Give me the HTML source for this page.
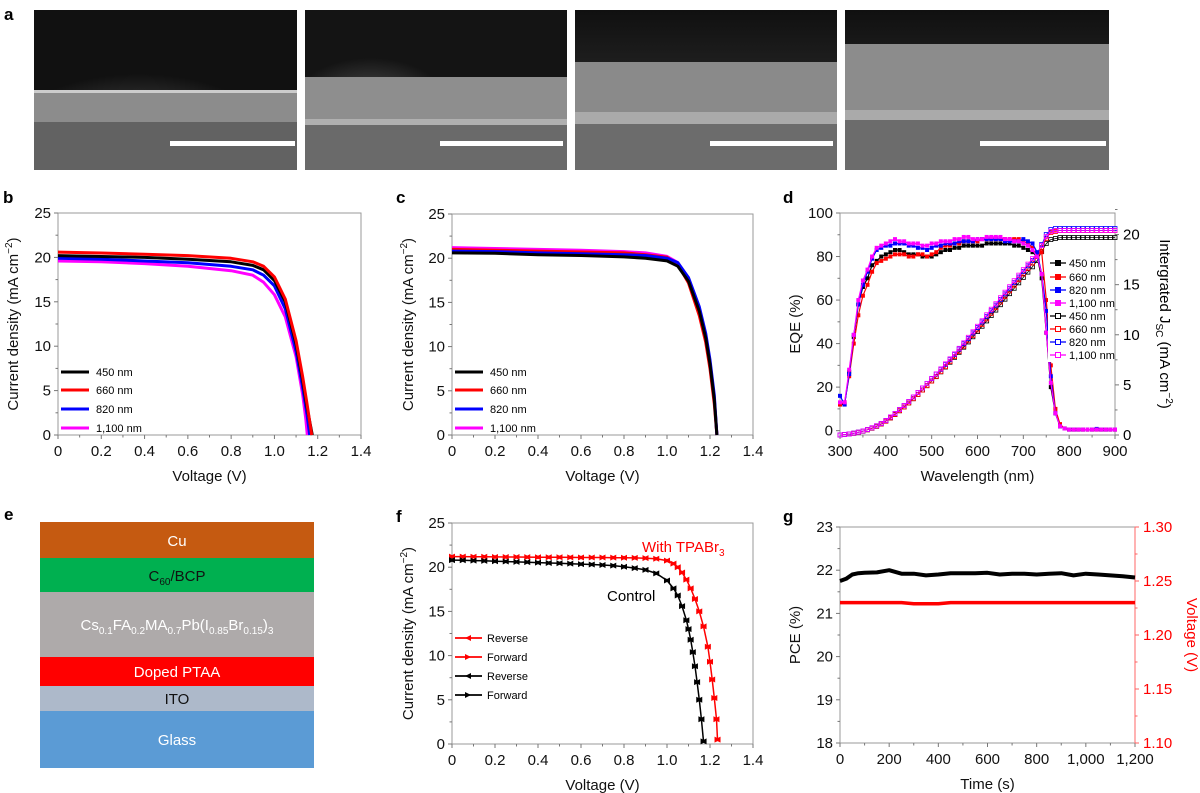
<!DOCTYPE html>
<html><head><meta charset="utf-8"><style>
html,body{margin:0;padding:0;background:#fff;}
svg{display:block;font-family:"Liberation Sans",Arial,sans-serif;}
</style></head><body>
<svg id="fig" width="1200" height="793" viewBox="0 0 1200 793">
<defs>
<radialGradient id="glow1" cx="0.4" cy="1" r="0.6"><stop offset="0" stop-color="#777"/><stop offset="1" stop-color="#111"/></radialGradient>
<radialGradient id="glow2" cx="0.25" cy="0.6" r="0.3"><stop offset="0" stop-color="#555"/><stop offset="1" stop-color="#141414"/></radialGradient>
<linearGradient id="dark" x1="0" y1="0" x2="0" y2="1"><stop offset="0" stop-color="#101010"/><stop offset="1" stop-color="#3a3a3a"/></linearGradient>
</defs>
<g>
<text x="4" y="20" font-weight="bold" font-size="17">a</text>
<g>
<rect x="34" y="10" width="263" height="160" fill="url(#glow1)"/>
<rect x="34" y="92" width="263" height="30" fill="#8c8c8c"/>
<rect x="34" y="90" width="263" height="3" fill="#ccc"/>
<rect x="34" y="122" width="263" height="48" fill="#626262"/>
<rect x="170" y="141" width="125" height="5" fill="#fff"/>
</g>
<g>
<rect x="305" y="10" width="262" height="160" fill="url(#glow2)"/>
<rect x="305" y="77" width="262" height="42" fill="#8e8e8e"/>
<rect x="305" y="119" width="262" height="6" fill="#b0b0b0"/>
<rect x="305" y="125" width="262" height="45" fill="#6a6a6a"/>
<rect x="440" y="141" width="123" height="5" fill="#fff"/>
</g>
<g>
<rect x="575" y="10" width="262" height="160" fill="url(#dark)"/>
<rect x="575" y="62" width="262" height="50" fill="#8a8a8a"/>
<rect x="575" y="112" width="262" height="12" fill="#aaa"/>
<rect x="575" y="124" width="262" height="46" fill="#6c6c6c"/>
<rect x="710" y="141" width="123" height="5" fill="#fff"/>
</g>
<g>
<rect x="845" y="10" width="264" height="160" fill="url(#dark)"/>
<rect x="845" y="44" width="264" height="66" fill="#8c8c8c"/>
<rect x="845" y="110" width="264" height="10" fill="#aaa"/>
<rect x="845" y="120" width="264" height="50" fill="#6c6c6c"/>
<rect x="980" y="141" width="126" height="5" fill="#fff"/>
</g>
</g>
<g>
<text x="4" y="520" font-weight="bold" font-size="17">e</text>
<rect x="40" y="522" width="274" height="36" fill="#c55a11"/>
<text x="177" y="546" text-anchor="middle" font-size="15" fill="#fff">Cu</text>
<rect x="40" y="558" width="274" height="34" fill="#00b050"/>
<text x="177" y="581" text-anchor="middle" font-size="15" fill="#111">C<tspan font-size="10" dy="4">60</tspan><tspan dy="-4">/BCP</tspan></text>
<rect x="40" y="592" width="274" height="65" fill="#aeaaaa"/>
<text x="177" y="630" text-anchor="middle" font-size="15" fill="#fff">Cs<tspan font-size="10" dy="4">0.1</tspan><tspan dy="-4">FA</tspan><tspan font-size="10" dy="4">0.2</tspan><tspan dy="-4">MA</tspan><tspan font-size="10" dy="4">0.7</tspan><tspan dy="-4">Pb(I</tspan><tspan font-size="10" dy="4">0.85</tspan><tspan dy="-4">Br</tspan><tspan font-size="10" dy="4">0.15</tspan><tspan dy="-4">)</tspan><tspan font-size="10" dy="4">3</tspan></text>
<rect x="40" y="657" width="274" height="29" fill="#ff0000"/>
<text x="177" y="677" text-anchor="middle" font-size="15" fill="#fff">Doped PTAA</text>
<rect x="40" y="686" width="274" height="25" fill="#adb9ca"/>
<text x="177" y="704" text-anchor="middle" font-size="15" fill="#111">ITO</text>
<rect x="40" y="711" width="274" height="57" fill="#5b9bd5"/>
<text x="177" y="745" text-anchor="middle" font-size="15" fill="#fff">Glass</text>
</g>
</svg>
<script>
const bV450=[0,0.2,0.4,0.6,0.8,0.9,0.95,1.0,1.05,1.1,1.13,1.15,1.175];
const bJ450=[20.2,20.1,20.0,19.8,19.5,19.1,18.6,17.4,15.0,10.2,6.2,3.2,0];
const bV660=[0,0.2,0.4,0.6,0.8,0.9,0.95,1.0,1.05,1.1,1.13,1.15,1.172];
const bJ660=[20.6,20.5,20.35,20.2,19.9,19.5,19.0,17.8,15.3,10.6,6.6,3.6,0];
const bV820=[0,0.2,0.4,0.6,0.8,0.9,0.95,1.0,1.05,1.1,1.13,1.15,1.163];
const bJ820=[19.9,19.8,19.6,19.4,19.0,18.6,18.0,16.8,14.2,9.4,5.4,2.4,0];
const bV1100=[0,0.2,0.4,0.6,0.8,0.9,0.95,1.0,1.05,1.1,1.13,1.145,1.152];
const bJ1100=[19.6,19.5,19.3,19.0,18.5,18.0,17.2,15.8,13.3,8.8,4.6,1.8,0];
const cV=[0,0.2,0.4,0.6,0.8,0.9,1.0,1.05,1.1,1.15,1.18,1.2,1.22,1.232];
const cJ450=[20.6,20.55,20.4,20.3,20.15,20.0,19.7,19.1,17.4,14.0,11.0,8.0,4.0,0];
const cJ660=[21.0,20.9,20.8,20.7,20.6,20.4,20.1,19.3,17.2,13.5,10.5,7.5,3.5,0];
const cJ820=[20.8,20.75,20.6,20.5,20.4,20.3,20.0,19.5,17.8,14.5,11.5,8.5,4.5,0];
const cJ1100=[21.2,21.1,21.0,20.9,20.75,20.6,20.2,19.5,17.6,14.2,11.2,8.2,4.2,0];
const dWl=[300,310,320,330,340,350,360,370,380,390,400,410,420,430,440,450,460,470,480,490,500,510,520,530,540,550,560,570,580,590,600,610,620,630,640,650,660,670,680,690,700,710,720,730,740,750,760,770,780,790,800,810,820,830,840,850,860,870,880,890,900];
const eqe450=[12,12,27,43,58,66,70,76,78,80,81,82,83,83,82,81,81,81,80,80,80,81,82,83,83,84,84,85,85,85,85,85,86,86,86,86,86,86,85,85,84,83,82,80,70,45,20,8,2,1,0.5,0.5,0.5,0.5,0.5,0.5,0.5,0.5,0.5,0.5,0.5];
const eqe660=[12,13,25,40,53,62,67,73,77,78,79,80,81,81,81,80,80,81,81,80,81,82,84,85,85,86,86,87,87,87,87,88,88,88,88,88,88,88,88,88,87,86,84,80,82,60,30,10,3,1,0.5,0.5,0.5,0.5,0.5,0.5,0.5,0.5,0.5,0.5,0.5];
const eqe820=[16,12,26,44,58,67,73,79,83,84,85,85,86,86,86,85,85,84,84,83,84,85,85,86,86,86,87,87,87,87,88,88,88,88,88,88,87,87,87,87,88,87,86,82,72,55,25,8,2,1,0.5,0.5,0.5,0.5,0.5,0.5,0.8,0.5,0.5,0.5,0.5];
const eqe1100=[13,13,28,44,60,69,74,80,84,85,86,87,88,87,87,86,86,86,85,85,86,86,87,87,87,88,88,89,89,88,88,88,89,89,89,89,88,88,87,87,86,85,83,80,72,45,22,8,2,1,0.5,0.5,0.5,0.5,0.5,0.5,0.5,0.5,0.5,0.5,0.5];
const jsc450=[0,0.05,0.1,0.17,0.27,0.38,0.52,0.68,0.87,1.1,1.38,1.7,2.05,2.42,2.8,3.2,3.62,4.05,4.48,4.92,5.38,5.82,6.3,6.78,7.26,7.75,8.25,8.76,9.28,9.8,10.32,10.85,11.38,11.92,12.46,13.0,13.55,14.1,14.64,15.18,15.72,16.25,16.78,17.4,18.3,19.1,19.5,19.6,19.7,19.7,19.7,19.7,19.7,19.7,19.7,19.7,19.7,19.7,19.7,19.7,19.7];
const jsc660=[0,0.05,0.1,0.17,0.27,0.38,0.52,0.68,0.87,1.1,1.38,1.7,2.05,2.42,2.8,3.2,3.62,4.05,4.48,4.92,5.38,5.84,6.32,6.82,7.32,7.82,8.34,8.86,9.4,9.94,10.48,11.03,11.58,12.14,12.7,13.26,13.82,14.38,14.94,15.5,16.06,16.6,17.15,17.8,18.7,19.6,20.2,20.3,20.4,20.4,20.4,20.4,20.4,20.4,20.4,20.4,20.4,20.4,20.4,20.4,20.4];
const jsc820=[0,0.05,0.1,0.18,0.28,0.4,0.55,0.72,0.92,1.15,1.45,1.8,2.15,2.55,2.95,3.35,3.8,4.25,4.7,5.15,5.62,6.08,6.56,7.05,7.55,8.05,8.58,9.1,9.64,10.18,10.72,11.28,11.84,12.4,12.96,13.52,14.08,14.64,15.2,15.76,16.32,16.88,17.42,18.1,19.0,20.0,20.5,20.6,20.6,20.6,20.6,20.6,20.6,20.6,20.6,20.6,20.6,20.6,20.6,20.6,20.6];
const jsc1100=[0,0.05,0.1,0.18,0.28,0.4,0.55,0.72,0.92,1.15,1.45,1.8,2.15,2.55,2.95,3.35,3.8,4.25,4.7,5.15,5.65,6.1,6.6,7.1,7.6,8.1,8.65,9.2,9.75,10.3,10.85,11.4,12.0,12.55,13.1,13.7,14.25,14.8,15.4,15.95,16.5,17.05,17.6,18.15,18.9,19.8,20.3,20.4,20.4,20.4,20.4,20.4,20.4,20.4,20.4,20.4,20.4,20.4,20.4,20.4,20.4];
const fVc=[0,0.05,0.1,0.15,0.2,0.25,0.3,0.35,0.4,0.45,0.5,0.55,0.6,0.65,0.7,0.75,0.8,0.85,0.9,0.95,1.0,1.03,1.05,1.07,1.09,1.1,1.11,1.12,1.13,1.14,1.15,1.16,1.17];
const fJc=[20.8,20.78,20.75,20.72,20.68,20.65,20.6,20.57,20.52,20.48,20.44,20.4,20.35,20.3,20.25,20.18,20.05,19.9,19.7,19.3,18.5,17.6,16.8,15.6,14.0,13.0,11.8,10.4,8.8,7.0,5.0,2.8,0.3];
const fVt=[0,0.05,0.1,0.15,0.2,0.25,0.3,0.35,0.4,0.45,0.5,0.55,0.6,0.65,0.7,0.75,0.8,0.85,0.9,0.95,1.0,1.03,1.05,1.07,1.09,1.11,1.13,1.15,1.17,1.19,1.2,1.21,1.22,1.23,1.235];
const fJt=[21.2,21.2,21.18,21.18,21.16,21.15,21.15,21.14,21.13,21.12,21.12,21.11,21.1,21.1,21.1,21.08,21.07,21.05,21.02,20.95,20.75,20.4,20.0,19.4,18.6,17.6,16.4,15.0,13.3,11.0,9.3,7.3,5.2,2.8,0.5];
const gT=[0,25,50,75,100,150,200,250,300,350,400,450,500,550,600,650,700,750,800,850,900,950,1000,1050,1100,1150,1200];
const gPCE=[21.75,21.8,21.9,21.93,21.94,21.95,22.0,21.92,21.92,21.88,21.9,21.93,21.93,21.93,21.94,21.9,21.92,21.92,21.9,21.92,21.93,21.88,21.92,21.9,21.88,21.86,21.83];
const gVolt=[1.23,1.23,1.23,1.23,1.23,1.23,1.23,1.23,1.229,1.229,1.229,1.23,1.23,1.23,1.23,1.23,1.23,1.23,1.23,1.23,1.23,1.23,1.23,1.23,1.23,1.23,1.23];
const jvTicksX=[0,0.2,0.4,0.6,0.8,1.0,1.2,1.4];
const jvTickLabelsX=['0','0.2','0.4','0.6','0.8','1.0','1.2','1.4'];
const jvTicksY=[0,5,10,15,20,25];

const NS='http://www.w3.org/2000/svg';
const svg=document.getElementById('fig');
function mk(tag,parent){const e=document.createElementNS(NS,tag);parent.appendChild(e);return e;}
function set(e,o){for(const k in o)e.setAttribute(k,o[k]);return e;}
function scale(d0,d1,r0,r1){return v=>r0+(v-d0)/(d1-d0)*(r1-r0);}

function axes(g,p){
  const fr=mk('rect',g);
  set(fr,{x:p.L,y:p.T,width:p.R-p.L,height:p.B-p.T,fill:'none',stroke:'#999','stroke-width':1});
  
  
  p.xt.forEach((v,i)=>{
    const x=p.X(v);
    const t=mk('line',g);set(t,{x1:x,x2:x,y1:p.B,y2:p.B+4,stroke:'#777'});
    
    
    const l=mk('text',g);set(l,{x:x,y:p.B+21,'text-anchor':'middle','font-size':15,fill:'#111'});l.textContent=p.xl[i];
    
    
    if(i<p.xt.length-1){const xm=p.X((v+p.xt[i+1])/2);const m=mk('line',g);set(m,{x1:xm,x2:xm,y1:p.B,y2:p.B+2.5,stroke:'#777'});
      
      }
  });
  p.yt.forEach((v,i)=>{
    const y=p.Y(v);
    const t=mk('line',g);set(t,{x1:p.L-4,x2:p.L,y1:y,y2:y,stroke:'#777'});
    
    
    const l=mk('text',g);set(l,{x:p.L-7,y:y+5,'text-anchor':'end','font-size':15,fill:'#111'});l.textContent=p.yl?p.yl[i]:String(v);
    
    
    if(i<p.yt.length-1){const ym=p.Y((v+p.yt[i+1])/2);const m=mk('line',g);set(m,{x1:p.L-2.5,x2:p.L,y1:ym,y2:ym,stroke:'#777'});
      
      }
  });
  const xt=mk('text',g);set(xt,{x:(p.L+p.R)/2,y:p.B+46,'text-anchor':'middle','font-size':15,fill:'#111'});xt.textContent=p.xtitle;
  
  
  const yt=mk('text',g);set(yt,{x:0,y:0,'text-anchor':'middle','font-size':15,fill:'#111',transform:`translate(${p.ytx},${(p.T+p.B)/2}) rotate(-90)`});
  yt.innerHTML=p.ytitle;
  
  
}
function line(g,xs,ys,X,Y,color,w,name){
  const pl=mk('polyline',g);
  set(pl,{points:xs.map((v,i)=>X(v).toFixed(1)+','+Y(ys[i]).toFixed(1)).join(' '),fill:'none',stroke:color,'stroke-width':w,'stroke-linejoin':'round'});
  
  
  return pl;
}
function label(g,x,y,txt){const l=mk('text',g);set(l,{x:x,y:y,'font-weight':'bold','font-size':17});l.textContent=txt;
  
  }
const cmUnit='Current density (mA cm<tspan dy="-6" font-size="10">−2</tspan><tspan dy="6">)</tspan>';
function jvLegend(g,x0){
[['450 nm','#000',372],['660 nm','#ff0000',390],['820 nm','#0000ff',409],['1,100 nm','#ff00ff',428]].forEach(e=>{
  const l=mk('line',g);set(l,{x1:x0,x2:x0+28,y1:e[2],y2:e[2],stroke:e[1],'stroke-width':3});
  
  
  const t=mk('text',g);set(t,{x:x0+35,y:e[2]+4,'font-size':11});t.textContent=e[0];
  
  
});
}

{
const g=mk('g',svg);


label(g,3,203,'b');
const p={L:58,R:361,T:213,B:435,X:scale(0,1.4,58,361),Y:scale(0,25,435,213),xt:jvTicksX,xl:jvTickLabelsX,yt:jvTicksY,xtitle:'Voltage (V)',ytitle:cmUnit,ytx:18};
axes(g,p);
line(g,bV1100,bJ1100,p.X,p.Y,'#ff00ff',3,'line-1100nm');
line(g,bV820,bJ820,p.X,p.Y,'#0000ff',3,'line-820nm');
line(g,bV450,bJ450,p.X,p.Y,'#000',3,'line-450nm');
line(g,bV660,bJ660,p.X,p.Y,'#ff0000',3,'line-660nm');
jvLegend(g,61);
}
{
const g=mk('g',svg);


label(g,396,203,'c');
const p={L:452,R:753,T:214,B:435,X:scale(0,1.4,452,753),Y:scale(0,25,435,214),xt:jvTicksX,xl:jvTickLabelsX,yt:jvTicksY,xtitle:'Voltage (V)',ytitle:cmUnit,ytx:413};
axes(g,p);
line(g,cV,cJ1100,p.X,p.Y,'#ff00ff',3,'line-1100nm');
line(g,cV,cJ660,p.X,p.Y,'#ff0000',3,'line-660nm');
line(g,cV,cJ820,p.X,p.Y,'#0000ff',3,'line-820nm');
line(g,cV,cJ450,p.X,p.Y,'#000',3,'line-450nm');
jvLegend(g,455);
}
{
const g=mk('g',svg);


label(g,783,203,'d');
const p={L:840,R:1115,T:213,B:435,X:scale(300,900,840,1115),Y:scale(-2,100,435,213),xt:[300,400,500,600,700,800,900],xl:['300','400','500','600','700','800','900'],yt:[0,20,40,60,80,100],xtitle:'Wavelength (nm)',ytitle:'EQE (%)',ytx:800};
axes(g,p);
const YR=scale(0,22.15,435,213);
[0,5,10,15,20].forEach((v,i,a)=>{
  const y=YR(v);const t=mk('line',g);set(t,{x1:p.R,x2:p.R+4,y1:y,y2:y,stroke:'#777'});
  
  
  const l=mk('text',g);set(l,{x:p.R+8,y:y+5,'font-size':15});l.textContent=String(v);
  
  
  const ym=YR(v+2.5);const m=mk('line',g);set(m,{x1:p.R,x2:p.R+2.5,y1:ym,y2:ym,stroke:'#777'});
  
  
});
const rt=mk('text',g);set(rt,{'text-anchor':'middle','font-size':15,transform:`translate(1160,${(p.T+p.B)/2}) rotate(90)`});
rt.innerHTML='Intergrated J<tspan dy="4" font-size="10">SC</tspan><tspan dy="-4"> (mA cm</tspan><tspan dy="-6" font-size="10">−2</tspan><tspan dy="6">)</tspan>';


const cols={'450':'#000','660':'#ff0000','820':'#0000ff','1100':'#ff00ff'};
const jscSets=[['450',jsc450],['660',jsc660],['820',jsc820],['1100',jsc1100]];
jscSets.forEach(s=>{
  line(g,dWl,s[1],p.X,YR,cols[s[0]],0.8,'jsc-line-'+s[0]);
  dWl.forEach((w,i)=>{const r=mk('rect',g);set(r,{x:p.X(w)-2,y:YR(s[1][i])-2,width:4,height:4,fill:'none',stroke:cols[s[0]],'stroke-width':0.8});
    
    });
});
const eqeSets=[['450',eqe450],['660',eqe660],['820',eqe820],['1100',eqe1100]];
eqeSets.forEach(s=>{
  line(g,dWl,s[1],p.X,p.Y,cols[s[0]],1.2,'eqe-line-'+s[0]);
  dWl.forEach((w,i)=>{const r=mk('rect',g);set(r,{x:p.X(w)-2,y:p.Y(s[1][i])-2,width:4,height:4,fill:cols[s[0]]});
    
    });
});
const leg=[['450 nm','#000',263,1],['660 nm','#ff0000',277,1],['820 nm','#0000ff',290,1],['1,100 nm','#ff00ff',303,1],['450 nm','#000',316,0],['660 nm','#ff0000',329,0],['820 nm','#0000ff',342,0],['1,100 nm','#ff00ff',355,0]];
leg.forEach(e=>{
  const bg=mk('rect',g);set(bg,{x:1048,y:e[2]-6,width:66,height:13,fill:'#fff'});
  
  
  const l=mk('line',g);set(l,{x1:1050,x2:1066,y1:e[2],y2:e[2],stroke:e[1],'stroke-width':1.3});
  
  
  const r=mk('rect',g);set(r,{x:1055.5,y:e[2]-2.5,width:5,height:5,fill:e[3]?e[1]:'#fff',stroke:e[1],'stroke-width':1});
  
  
  const t=mk('text',g);set(t,{x:1069,y:e[2]+4,'font-size':11});t.textContent=e[0];
  
  
});
}
{
const g=mk('g',svg);


label(g,396,522,'f');
const p={L:452,R:753,T:523,B:744,X:scale(0,1.4,452,753),Y:scale(0,25,744,523),xt:jvTicksX,xl:jvTickLabelsX,yt:jvTicksY,xtitle:'Voltage (V)',ytitle:cmUnit,ytx:413};
axes(g,p);
function tri(x,y,dir,c){const t=mk('polygon',g);const s=3;
  set(t,{points:dir<0?`${x-s},${y} ${x+s},${y-s} ${x+s},${y+s}`:`${x+s},${y} ${x-s},${y-s} ${x-s},${y+s}`,fill:c});
  
  }
[[fVt,fJt,'#ff0000','tpabr3'],[fVc,fJc,'#000','control']].forEach(s=>{
  line(g,s[0],s[1],p.X,p.Y,s[2],1.5,'jv-line-'+s[3]);
  s[0].forEach((v,i)=>{tri(p.X(v),p.Y(s[1][i]),-1,s[2]);tri(p.X(v),p.Y(s[1][i]),1,s[2]);});
});
const a=mk('text',g);set(a,{x:642,y:552,'font-size':15,fill:'#ff0000'});a.innerHTML='With TPABr<tspan dy="4" font-size="10">3</tspan>';


const b=mk('text',g);set(b,{x:607,y:601,'font-size':15});b.textContent='Control';


[['Reverse','#ff0000',638,-1],['Forward','#ff0000',657,1],['Reverse','#000',676,-1],['Forward','#000',695,1]].forEach(e=>{
  const l=mk('line',g);set(l,{x1:455,x2:482,y1:e[2],y2:e[2],stroke:e[1],'stroke-width':1.8});
  
  
  tri(468,e[2],e[3],e[1]);
  const t=mk('text',g);set(t,{x:487,y:e[2]+4,'font-size':11});t.textContent=e[0];
  
  
});
}
{
const g=mk('g',svg);


label(g,783,522,'g');
const p={L:840,R:1135,T:527,B:743,X:scale(0,1200,840,1135),Y:scale(18,23,743,527),xt:[0,200,400,600,800,1000,1200],xl:['0','200','400','600','800','1,000','1,200'],yt:[18,19,20,21,22,23],xtitle:'Time (s)',ytitle:'PCE (%)',ytx:800};
axes(g,p);
const YR=scale(1.10,1.30,743,527);
const ra=mk('line',g);set(ra,{x1:p.R,x2:p.R,y1:p.T,y2:p.B,stroke:'#ff8080','stroke-width':1.2});


[1.10,1.15,1.20,1.25,1.30].forEach((v,i,a)=>{
  const y=YR(v);const t=mk('line',g);set(t,{x1:p.R,x2:p.R+4,y1:y,y2:y,stroke:'#ff6060'});
  
  
  const l=mk('text',g);set(l,{x:p.R+8,y:y+5,'font-size':15,fill:'#ff0000'});l.textContent=v.toFixed(2);
  
  
  if(i<a.length-1){const ym=YR(v+0.025);const m=mk('line',g);set(m,{x1:p.R,x2:p.R+2.5,y1:ym,y2:ym,stroke:'#ff6060'});
    
    }
});
const rt=mk('text',g);set(rt,{'text-anchor':'middle','font-size':15,fill:'#ff0000',transform:`translate(1187,${(p.T+p.B)/2}) rotate(90)`});rt.textContent='Voltage (V)';


line(g,gT,gVolt,p.X,YR,'#ff0000',3.5,'voltage-line');
line(g,gT,gPCE,p.X,p.Y,'#000',4,'pce-line');
}
</script>
</body></html>
